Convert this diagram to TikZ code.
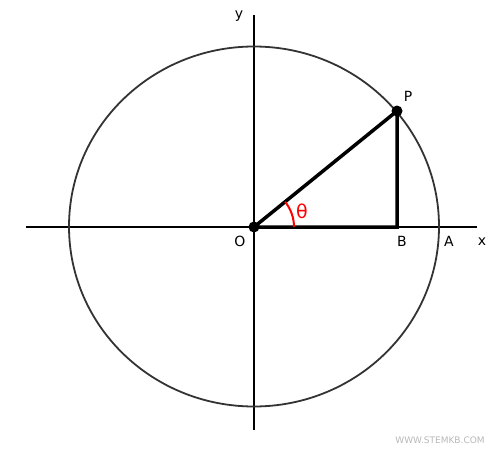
\documentclass[tikz,border=0pt]{standalone}
\usepackage{fontspec}
\setmainfont{DejaVu Sans}
\begin{document}
\begin{tikzpicture}[x=1pt,y=-1pt,
  axis/.style={line width=1.2pt,black},
  tri/.style={line width=3.5pt,black},
  lbl/.style={font=\fontsize{14}{16}\selectfont,inner sep=0pt},
  dot/.style={circle,fill=black,inner sep=0pt,minimum size=11pt}]
\useasboundingbox (0,0) rectangle (500,460);
\coordinate (xl) at (26,227);
\coordinate (xr) at (477,227);
\coordinate (yt) at (254,15);
\coordinate (yb) at (254,430);
\draw[axis] (xl) -- (xr);
\draw[axis] (yt) -- (yb);
\draw[line width=1.8pt,black!80] (254,226.5) ellipse [x radius=185, y radius=180];
\node[dot] (O) at (254,227) {};
\node[dot] (P) at (397,111) {};
\coordinate (B) at (397,227);
\draw[tri,line cap=round,line join=miter] (O.center) -- (P.center) -- (B) -- cycle;
\draw[red,line width=2pt] (294,227) arc[start angle=0,end angle=-39.05,radius=40];
\node[lbl] (ly) at (239,16) {y};
\node[lbl] (lO) at (240,241) {O};
\node[lbl] (lP) at (408,96) {P};
\node[lbl] (lB) at (402,241) {B};
\node[lbl] (lA) at (449,241) {A};
\node[lbl] (lx) at (482,242) {x};
\node[lbl,red,font=\fontsize{19}{21}\selectfont] (th) at (302,211) {θ};
\node[lbl,black!28,font=\fontsize{9}{11}\selectfont] (wm) at (440,440) {WWW.STEMKB.COM};
\end{tikzpicture}
\end{document}
